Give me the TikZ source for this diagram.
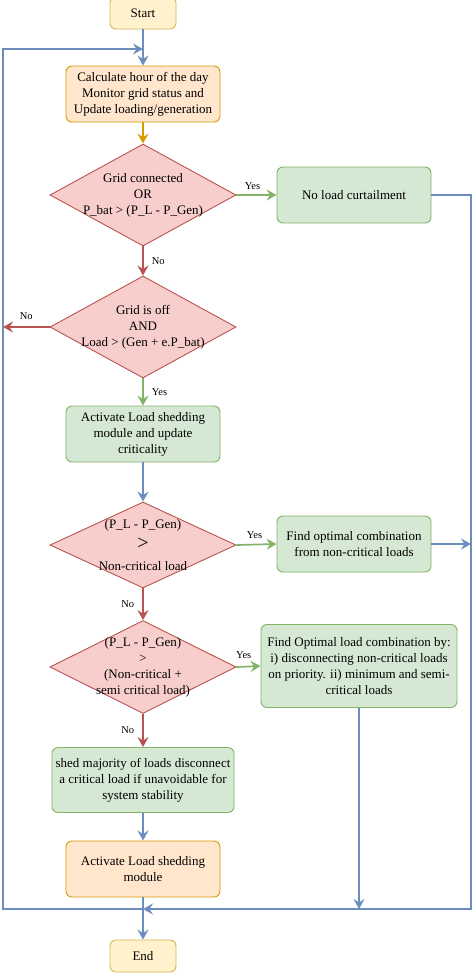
\documentclass[tikz,border=0pt]{standalone}
\usepackage{fontspec}
\setmainfont{Liberation Serif}
\usetikzlibrary{shapes.geometric,arrows.meta}
\definecolor{yfill}{HTML}{FFF2CC}\definecolor{ydraw}{HTML}{D6B656}
\definecolor{ofill}{HTML}{FFE6CC}\definecolor{odraw}{HTML}{D79B00}
\definecolor{rfill}{HTML}{F8CECC}\definecolor{rdraw}{HTML}{B85450}
\definecolor{gfill}{HTML}{D5E8D4}\definecolor{gdraw}{HTML}{82B366}
\definecolor{bline}{HTML}{6C8EBF}
\begin{document}
\begin{tikzpicture}[x=1pt,y=-1pt,
  font=\rmfamily\fontsize{13}{16}\selectfont,
  box/.style={rectangle, rounded corners=6pt, line width=0.9pt, align=center, inner sep=0pt, text=black},
  term/.style={box, fill=yfill, draw=ydraw, minimum width=66pt, minimum height=32pt},
  obox/.style={box, fill=ofill, draw=odraw, minimum width=154pt, minimum height=56pt},
  gbox/.style={box, fill=gfill, draw=gdraw, minimum width=154pt, minimum height=56pt},
  dec/.style={diamond, fill=rfill, draw=rdraw, line width=0.9pt, inner sep=0pt, minimum width=186pt, minimum height=102pt},
  dtext/.style={align=center, inner sep=0pt, text=black},
  flow/.style={line width=1.7pt, -{Stealth[length=10pt,width=11pt,inset=3.5pt]}},
  lbl/.style={font=\rmfamily\fontsize{10.5}{12}\selectfont, inner sep=2pt, text=black}
]
\useasboundingbox (0,0) rectangle (474,975);

% nodes
\node[term] (start) at (143,13) {Start};
\node[obox] (calc) at (143,94) {Calculate hour of the day\\Monitor grid status and\\Update loading/generation};
\node[dec] (d1) at (143,195) {};
\node[dtext] (d1t) at (d1) {Grid connected\\OR\\P\_bat > (P\_L - P\_Gen)};
\node[gbox] (nlc) at (354,195) {No load curtailment};
\node[dec] (d2) at (143,327) {};
\node[dtext] (d2t) at (d2) {Grid is off\\AND\\Load > (Gen + e.P\_bat)};
\node[gbox] (act1) at (143,434) {Activate Load shedding\\module and update\\criticality};
\node[dec, minimum height=86pt] (d3) at (143,545) {};
\node[dtext, font=\rmfamily\fontsize{13}{21}\selectfont] (d3t) at (d3) {(P\_L - P\_Gen)\\{\fontsize{20}{21}\selectfont >}\\Non-critical load};
\node[gbox] (foc) at (354,544) {Find optimal combination\\from non-critical loads};
\node[dec, minimum height=93pt] (d4) at (143,667) {};
\node[dtext] (d4t) at (d4) {(P\_L - P\_Gen)\\>\\(Non-critical +\\semi critical load)};
\node[gbox, minimum width=196pt, minimum height=83pt] (fol) at (359,666) {Find Optimal load combination by:\\i) disconnecting non-critical loads\\on priority. ii) minimum and semi-\\critical loads};
\node[gbox, minimum width=182pt, minimum height=65pt] (shed) at (143,780) {shed majority of loads disconnect\\a critical load if unavoidable for\\system stability};
\node[obox] (act2) at (143,869) {Activate Load shedding\\module};
\node[term] (end) at (143,956) {End};

% loop coordinates
\coordinate (jt) at (143,49);
\coordinate (tl) at (3,49);
\coordinate (bl) at (3,909);
\coordinate (jn) at (143,909);
\coordinate (br) at (471,909);
\coordinate (tr) at (471,195);
\coordinate (mr) at (471,544);
\coordinate (lft) at (3,327);
\coordinate (fb) at (359,909);

% connectors
\draw[flow,bline] (start) -- (calc);
\draw[flow,odraw] (calc) -- (d1.north);
\draw[flow,gdraw] (d1.east) -- (nlc.west) node[lbl,pos=0.4,above=3pt] {Yes};
\draw[flow,rdraw] (d1.south) -- (d2.north) node[lbl,midway,right=6pt] {No};
\draw[flow,rdraw] (d2.west) -- (lft) node[lbl,midway,above=5pt] {No};
\draw[flow,gdraw] (d2.south) -- (act1.north) node[lbl,midway,right=6pt] {Yes};
\draw[flow,bline] (act1) -- (d3.north);
\draw[flow,gdraw] (d3.east) -- (foc.west) node[lbl,pos=0.45,above=3pt] {Yes};
\draw[flow,bline] (foc.east) -- (mr);
\draw[flow,rdraw] (d3.south) -- (d4.north) node[lbl,midway,left=6pt] {No};
\draw[flow,gdraw] (d4.east) -- (fol.west) node[lbl,pos=0.3,above=5pt] {Yes};
\draw[flow,rdraw] (d4.south) -- (shed.north) node[lbl,midway,left=6pt] {No};
\draw[flow,bline] (shed) -- (act2);
\draw[flow,bline] (act2) -- (end);
\draw[flow,bline] (fol.south) -- (fb);
\draw[flow,bline] (nlc.east) -- (tr) -- (br) -- (jn);
\draw[flow,bline] (jn) -- (bl) -- (tl) -- (jt);
\end{tikzpicture}
\end{document}
